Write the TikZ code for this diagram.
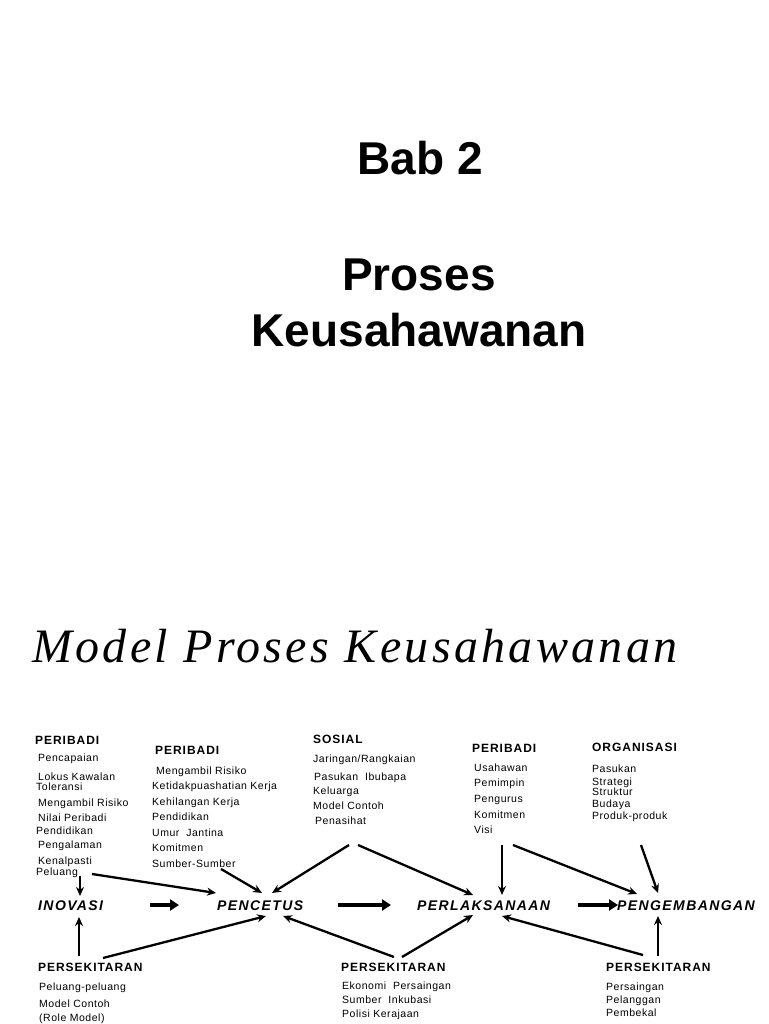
\documentclass[tikz,border=0pt]{standalone}
\usepackage{fontspec}
\setmainfont{Liberation Sans}
\newfontfamily\itemfont[LetterSpace=5]{Liberation Sans}
\newfontfamily\hdrfont[LetterSpace=8]{Liberation Sans}
\newfontfamily\stagefont[LetterSpace=10]{Liberation Sans}
\newfontfamily\mpkfont[LetterSpace=7]{Liberation Serif}
\usetikzlibrary{arrows.meta}
\tikzset{
  big/.style={anchor=base,inner sep=0pt,font=\fontsize{46pt}{50pt}\selectfont\bfseries},
  item/.style={anchor=base west,inner sep=0pt,font=\itemfont\fontsize{10.5pt}{12pt}\selectfont},
  hdr/.style={anchor=base west,inner sep=0pt,font=\hdrfont\fontsize{12pt}{14pt}\selectfont\bfseries},
  stage/.style={anchor=base west,inner sep=0pt,font=\stagefont\fontsize{14pt}{16pt}\selectfont\bfseries\itshape},
  thin/.style={line width=2.3pt,-{Stealth[length=9pt,width=8pt]}},
  thick/.style={line width=4pt,-{Triangle[length=9pt,width=11pt]}}
}
\begin{document}
\begin{tikzpicture}[x=1pt,y=-1pt]
\useasboundingbox (0,0) rectangle (768,1024);
\fill[white] (0,0) rectangle (768,1024);
% titles
\node[big] (bab) at (420,175) {Bab 2};
\node[big] (proses) at (419,290) {Proses};
\node[big] (keus) at (419,346) {Keusahawanan};
\node[anchor=base west,inner sep=0pt,font=\mpkfont\fontsize{48pt}{52pt}\selectfont\itshape] (model) at (32,662) {Model Proses Keusahawanan};
% block 1
\node[hdr] (h1) at (35,744) {PERIBADI};
\node[item] (b1a) at (38,761.5) {Pencapaian};
\node[item] (b1b) at (38,780.5) {Lokus Kawalan};
\node[item] (b1c) at (36,790.5) {Toleransi};
\node[item] (b1d) at (38,806.5) {Mengambil Risiko};
\node[item] (b1e) at (38,821.5) {Nilai Peribadi};
\node[item] (b1f) at (36,834.5) {Pendidikan};
\node[item] (b1g) at (38,848.5) {Pengalaman};
\node[item] (b1h) at (38,864.5) {Kenalpasti};
\node[item] (b1i) at (36,875.5) {Peluang};
% block 2
\node[hdr] (h2) at (155,754) {PERIBADI};
\node[item] (b2a) at (156,774.5) {Mengambil Risiko};
\node[item] (b2b) at (152,789.5) {Ketidakpuashatian Kerja};
\node[item] (b2c) at (152,805.5) {Kehilangan Kerja};
\node[item] (b2d) at (152,820.5) {Pendidikan};
\node[item] (b2e) at (152,836.5) {Umur\ \ Jantina};
\node[item] (b2f) at (152,851.5) {Komitmen};
\node[item] (b2g) at (152,867.5) {Sumber-Sumber};
% block 3
\node[hdr] (h3) at (313,743) {SOSIAL};
\node[item] (b3a) at (313,762.5) {Jaringan/Rangkaian};
\node[item] (b3b) at (314,780.5) {Pasukan\ \ Ibubapa};
\node[item] (b3c) at (313,794.5) {Keluarga};
\node[item] (b3d) at (313,809.5) {Model Contoh};
\node[item] (b3e) at (315,824.5) {Penasihat};
% block 4
\node[hdr] (h4) at (472,752) {PERIBADI};
\node[item] (b4a) at (474,771.5) {Usahawan};
\node[item] (b4b) at (474,786.5) {Pemimpin};
\node[item] (b4c) at (474,802.5) {Pengurus};
\node[item] (b4d) at (474,818.5) {Komitmen};
\node[item] (b4e) at (474,833.5) {Visi};
% block 5
\node[hdr] (h5) at (592,751) {ORGANISASI};
\node[item] (b5a) at (592,772.5) {Pasukan};
\node[item] (b5b) at (592,785.5) {Strategi};
\node[item] (b5c) at (592,795.5) {Struktur};
\node[item] (b5d) at (592,807.5) {Budaya};
\node[item] (b5e) at (592,819.5) {Produk-produk};
% bottom blocks
\node[hdr] (h6) at (38,971) {PERSEKITARAN};
\node[item] (b6a) at (39,990.5) {Peluang-peluang};
\node[item] (b6b) at (39,1007.5) {Model Contoh};
\node[item] (b6c) at (39,1021.5) {(Role Model)};
\node[hdr] (h7) at (341,971) {PERSEKITARAN};
\node[item] (b7a) at (342,989.5) {Ekonomi\ \ Persaingan};
\node[item] (b7b) at (342,1003.5) {Sumber\ \ Inkubasi};
\node[item] (b7c) at (342,1017.5) {Polisi Kerajaan};
\node[hdr] (h8) at (606,971) {PERSEKITARAN};
\node[item] (b8a) at (606,990.5) {Persaingan};
\node[item] (b8b) at (606,1003.5) {Pelanggan};
\node[item] (b8c) at (606,1016.5) {Pembekal};
% stages
\node[stage] (inov) at (38,910) {INOVASI};
\node[stage] (penc) at (217,910) {PENCETUS};
\node[stage] (perl) at (417,910) {PERLAKSANAAN};
\node[stage] (peng) at (617,910) {PENGEMBANGAN};
% thick arrows
\coordinate (t1s) at (150,905); \coordinate (t1e) at (179,905);
\coordinate (t2s) at (338,905); \coordinate (t2e) at (391,905);
\coordinate (t3s) at (578,905); \coordinate (t3e) at (618,905);
\draw[thick] (t1s) -- (t1e);
\draw[thick] (t2s) -- (t2e);
\draw[thick] (t3s) -- (t3e);
% thin arrows: coordinates
\coordinate (a1s) at (80,876);  \coordinate (a1e) at (80,896);
\coordinate (a2s) at (92,874);  \coordinate (a2e) at (216,893);
\coordinate (a3s) at (221,869); \coordinate (a3e) at (262,893);
\coordinate (a4s) at (349,845); \coordinate (a4e) at (272,893);
\coordinate (a5s) at (358,845); \coordinate (a5e) at (473,895);
\coordinate (a6s) at (502,845); \coordinate (a6e) at (502,895);
\coordinate (a7s) at (513,845); \coordinate (a7e) at (637,894);
\coordinate (a8s) at (641,845); \coordinate (a8e) at (658,893);
\coordinate (a9s) at (79,956);  \coordinate (a9e) at (79,917);
\coordinate (a10s) at (103,958); \coordinate (a10e) at (266,916);
\coordinate (a11s) at (394,957); \coordinate (a11e) at (283,916);
\coordinate (a12s) at (402,957); \coordinate (a12e) at (473,915);
\coordinate (a13s) at (643,955); \coordinate (a13e) at (502,916);
\coordinate (a14s) at (658,956); \coordinate (a14e) at (658,916);
\foreach \i in {1,...,14} {\draw[thin] (a\i s) -- (a\i e);}
\end{tikzpicture}
\end{document}
